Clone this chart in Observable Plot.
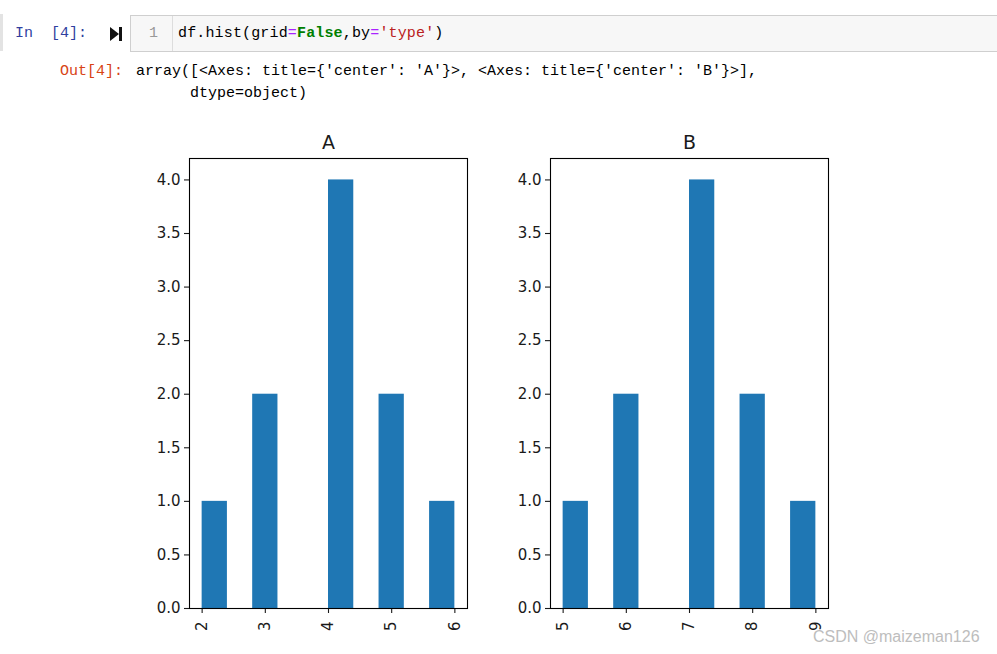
<!DOCTYPE html>
<html>
<head>
<meta charset="utf-8">
<script src="https://cdn.jsdelivr.net/npm/d3@7"></script>
<script src="https://cdn.jsdelivr.net/npm/@observablehq/plot@0.6"></script>
<style>
  html, body { margin: 0; padding: 0; background: #fff; }
  body { width: 997px; height: 654px; position: relative; overflow: hidden; }
  .abs { position: absolute; }
  .mono { font-family: "Liberation Mono", "DejaVu Sans Mono", monospace; font-size: 15px; white-space: pre; line-height: 22px; }
  .panel { position: absolute; top: 120px; }
  .panel svg text { font-family: "DejaVu Sans", sans-serif; }
</style>
</head>
<body>
<div class="abs" style="left:0;top:14px;width:3px;height:37px;background:#e3e3e3;"></div>
<div class="abs mono" style="left:15px;top:23px;color:#303F9F;">In  [4]:</div>
<svg class="abs" style="left:108px;top:26px;" width="16" height="16">
  <polygon points="2,1 11,8 2,15" fill="#111"/>
  <rect x="11" y="1" width="3" height="14" fill="#111"/>
</svg>
<div class="abs" style="left:130px;top:15px;width:880px;height:35px;background:#f7f7f7;border:1px solid #cfcfcf;"></div>
<div class="abs" style="left:172px;top:16px;width:1px;height:35px;background:#dddddd;"></div>
<div class="abs mono" style="left:149px;top:23px;color:#999;">1</div>
<div class="abs mono" id="code" style="left:178px;top:23px;letter-spacing:0.15px;color:#000;"></div>
<div class="abs mono" style="left:60px;top:61px;color:#D84315;">Out[4]:</div>
<div class="abs mono" id="out" style="left:136px;top:61px;color:#000;"></div>
<div class="abs mono" style="left:190px;top:83px;color:#000;">dtype=object)</div>
<div class="panel" id="panelA" style="left:130px;"></div>
<div class="panel" id="panelB" style="left:491px;"></div>
<div class="abs" style="left:813px;top:628px;font-family:'Liberation Sans',Arial,sans-serif;font-size:16px;color:#bdbdbd;white-space:pre;">CSDN @maizeman126</div>
<script>
// ---- data ----
const panelTitles = ["A", "B"];
const valuesA = [2, 3, 3, 4, 4, 4, 4, 5, 5, 6];
const valuesB = [5, 6, 6, 7, 7, 7, 7, 8, 8, 9];
const xTicksA = [2, 3, 4, 5, 6];
const xTicksB = [5, 6, 7, 8, 9];
const yTicks = [0, 0.5, 1.0, 1.5, 2.0, 2.5, 3.0, 3.5, 4.0];
const binCount = 10;
const codeParts = [
  ["df.hist(grid", "#000", "normal"],
  ["=", "#AA22FF", "normal"],
  ["False", "#008000", "bold"],
  [",by", "#000", "normal"],
  ["=", "#AA22FF", "normal"],
  ["'type'", "#BA2121", "normal"],
  [")", "#000", "normal"]
];
const outLine = "array([<Axes: title={'center': 'A'}>, <Axes: title={'center': 'B'}>],";

// ---- text ----
const codeEl = document.getElementById("code");
for (const [t, c, w] of codeParts) {
  const s = document.createElement("span");
  s.textContent = t; s.style.color = c; s.style.fontWeight = w;
  codeEl.appendChild(s);
}
document.getElementById("out").textContent = outLine;

// ---- charts ----
function panel(values, ticks, title) {
  const lo = d3.min(values), hi = d3.max(values);
  const step = (hi - lo) / binCount;
  const thresholds = d3.range(1, binCount).map(i => lo + i * step);
  const bins = d3.bin().domain([lo, hi]).thresholds(thresholds)(values)
    .filter(b => b.length > 0);
  const pad = (hi - lo) * 0.05;
  const ymax = d3.max(bins, b => b.length) * 1.05;
  return Plot.plot({
    width: 350,
    height: 530,
    marginLeft: 59,
    marginRight: 13,
    marginTop: 38,
    marginBottom: 42,
    style: { fontFamily: "DejaVu Sans", fontSize: "15px", color: "#1a1a1a", background: "transparent" },
    x: { domain: [lo - pad, hi + pad] },
    y: { domain: [0, ymax] },
    marks: [
      Plot.rectY(bins, { x1: d => d.x0, x2: d => d.x1, y: d => d.length, fill: "#1f77b4", inset: 0 }),
      Plot.axisX({ ticks: ticks, tickFormat: d3.format("d"), tickRotate: -90, tickSize: 5, tickPadding: 8, label: null, strokeWidth: 1.1, fontSize: 15 }),
      Plot.axisY({ ticks: yTicks, tickFormat: d3.format(".1f"), tickSize: 5, tickPadding: 4, label: null, strokeWidth: 1.1, fontSize: 15 }),
      Plot.frame({ stroke: "#000", strokeWidth: 1.1 }),
      Plot.text([title], { text: d => d, frameAnchor: "top", dy: -10, lineAnchor: "bottom", fontSize: 19, fill: "#1a1a1a" })
    ]
  });
}
document.getElementById("panelA").appendChild(panel(valuesA, xTicksA, panelTitles[0]));
document.getElementById("panelB").appendChild(panel(valuesB, xTicksB, panelTitles[1]));
</script>
</body>
</html>
